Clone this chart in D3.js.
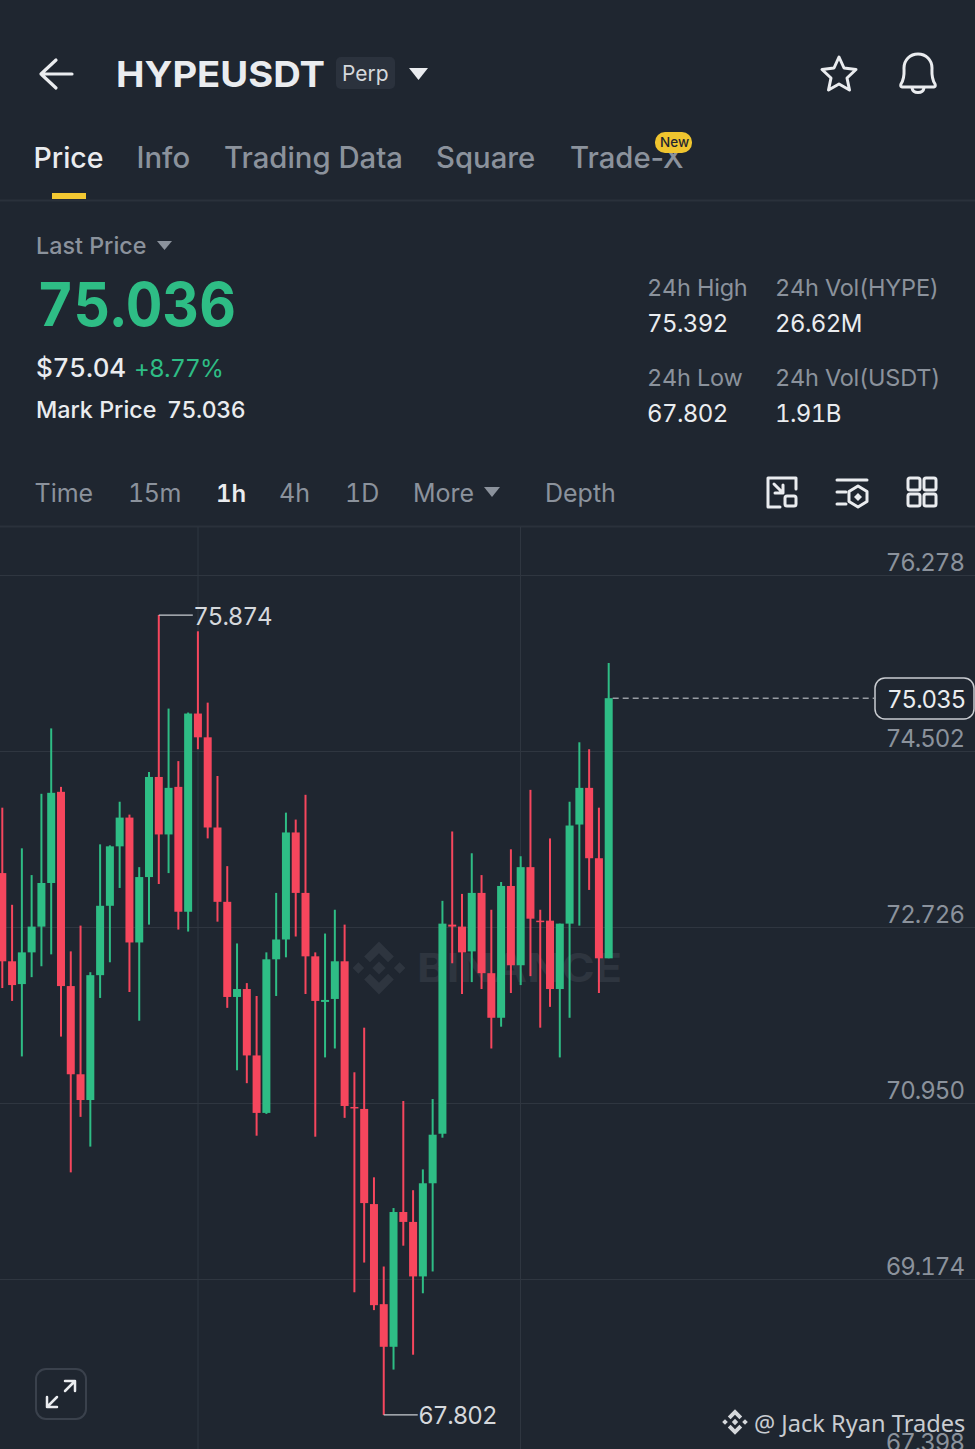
<!DOCTYPE html>
<html>
<head>
<meta charset="utf-8">
<script src="https://cdn.jsdelivr.net/npm/d3@7"></script>
<style>
  html, body { margin: 0; padding: 0; background: #1f2630; }
  svg { display: block; }
  text { font-family: Inter, "Noto Sans", sans-serif; font-variant-numeric: tabular-nums; }
</style>
</head>
<body>
<div id="chart"></div>
<script>
var w = 975, h = 1449;

// one hour candles, oldest first
var opens = [73.27,72.38,72.15,72.47,72.73,73.17,74.09,72.13,71.24,70.98,72.24,72.94,73.54,73.83,72.57,73.23,74.24,73.66,74.14,72.88,74.88,74.64,73.73,72.98,72.02,72.10,71.43,70.85,72.40,72.60,73.68,73.07,72.43,71.97,72.00,72.38,70.91,70.89,69.93,68.92,68.49,69.85,69.75,69.20,70.14,70.64,72.75,72.73,72.48,73.07,72.26,71.81,73.14,72.34,73.33,72.79,72.79,72.10,72.76,73.76,74.13,73.42,72.41];
var highs = [73.93,72.95,73.52,73.25,74.07,74.73,74.14,72.48,72.74,72.27,73.56,73.55,73.99,73.86,73.33,74.29,75.874,74.93,74.40,74.89,75.71,74.99,74.25,73.34,72.56,72.16,72.03,72.47,73.07,73.88,73.81,74.06,72.47,72.66,72.90,72.75,71.26,71.71,70.20,69.30,69.89,70.97,70.07,70.28,70.99,72.99,73.69,73.06,73.47,73.25,72.90,73.18,73.51,73.44,74.11,72.90,73.62,72.76,73.99,74.59,74.52,73.93,75.39];
var lows = [72.11,71.98,71.42,72.22,72.33,72.45,71.62,70.25,70.81,70.51,72.01,72.37,73.12,72.07,71.78,72.75,73.16,73.27,72.70,72.68,74.52,73.62,72.78,71.91,71.28,71.15,70.62,70.84,72.03,72.42,72.63,72.05,70.61,71.41,71.50,70.80,69.04,69.34,68.86,67.802,68.26,69.51,68.41,69.03,69.25,70.60,72.36,72.05,72.17,72.10,71.50,71.72,72.06,72.14,72.23,71.71,71.92,71.41,71.81,72.74,73.10,72.06,72.41];
var closes = [72.38,72.14,72.47,72.73,73.17,74.08,72.13,71.24,70.98,72.24,72.94,73.54,73.83,72.57,73.23,74.24,73.66,74.13,72.88,74.88,74.64,73.73,72.98,72.02,72.10,71.43,70.85,72.40,72.60,73.68,73.07,72.43,71.98,71.99,72.38,70.92,70.90,69.94,68.91,68.49,69.85,69.75,69.20,70.14,70.63,72.76,72.73,72.47,73.07,72.26,71.81,73.14,72.34,73.33,72.81,72.78,72.10,72.76,73.75,74.13,73.42,72.41,75.035];

var priceTicks = [76.278, 74.502, 72.726, 70.950, 69.174, 67.398];
var tabs = ["Price", "Info", "Trading Data", "Square", "Trade-X"];
var intervals = ["Time", "15m", "1h", "4h", "1D", "More", "Depth"];
var statLabels = ["24h High", "24h Vol(HYPE)", "24h Low", "24h Vol(USDT)"];
var statValues = ["75.392", "26.62M", "67.802", "1.91B"];

var green = "#2ebd85", red = "#f6465d", grey = "#8b929c", light = "#eaecef", bg = "#1f2630";

var svg = d3.select("#chart").append("svg")
    .attr("width", w)
    .attr("height", h);

svg.append("rect").attr("width", w).attr("height", h).attr("fill", bg);

function label(x, y, str, size, fill, weight) {
  return svg.append("text")
      .attr("x", x)
      .attr("y", y)
      .attr("font-size", size)
      .attr("fill", fill)
      .attr("font-weight", weight || 400)
      .text(str);
}

function tri(x0, x1, y0, y1, fill) {
  svg.append("path")
      .attr("d", "M" + x0 + "," + y0 + "L" + x1 + "," + y0 + "L" + (x0 + x1) / 2 + "," + y1 + "Z")
      .attr("fill", fill);
}

function icon(d, sw) {
  return svg.append("path")
      .attr("d", d)
      .attr("fill", "none")
      .attr("stroke", light)
      .attr("stroke-width", sw || 3)
      .attr("stroke-linejoin", "round")
      .attr("stroke-linecap", "round");
}

// binance diamond logo
function logo(cx, cy, s, fill) {
  var g = svg.append("g").attr("transform", "translate(" + cx + "," + cy + ")scale(" + s + ")").attr("fill", fill);
  g.append("path").attr("d", "M-9,-7L0,-16L9,-7L5.5,-3.5L0,-9L-5.5,-3.5Z");
  g.append("path").attr("d", "M-9,7L0,16L9,7L5.5,3.5L0,9L-5.5,3.5Z");
  g.append("path").attr("d", "M-4,0L0,-4L4,0L0,4Z");
  g.append("path").attr("d", "M-16,0L-12.5,-3.5L-9,0L-12.5,3.5Z");
  g.append("path").attr("d", "M16,0L12.5,-3.5L9,0L12.5,3.5Z");
}

// header
icon("M72,74H41M56,60L41,74L56,88", 3.2);
label(116, 87, "HYPEUSDT", 36, light, 700).attr("textLength", 209).attr("lengthAdjust", "spacingAndGlyphs");
svg.append("rect").attr("x", 336).attr("y", 57).attr("width", 59).attr("height", 32).attr("rx", 5).attr("fill", "#2b323d");
label(342, 81, "Perp", 21, "#d5d8dc");
tri(409, 428, 68, 80, light);
icon("M839,57L844,68L856,69.5L847,78L849.5,90L839,84L828.5,90L831,78L822,69.5L834,68Z", 3);
icon("M901,84C905,78 904,72 904,68C904,60 910,54 918,54C926,54 932,60 932,68C932,72 931,78 935,84C936,87 934,87 932,87H904C902,87 900,87 901,84ZM912,88C913,94 923,94 924,88", 3);

// tabs
var tabX = [33.5, 136.5, 224, 436, 570];
tabs.forEach(function(t, i) {
  label(tabX[i], 168, t, i == 0 ? 28.5 : 29.3, i == 0 ? light : grey, 500)
      .style("font-variant-numeric", "normal");
});
svg.append("rect").attr("x", 52).attr("y", 193).attr("width", 34).attr("height", 6).attr("fill", "#f3c832");
svg.append("rect").attr("x", 0).attr("y", 199.5).attr("width", w).attr("height", 2).attr("fill", "#2a313b");
svg.append("rect").attr("x", 655).attr("y", 132).attr("width", 37).attr("height", 21).attr("rx", 10).attr("fill", "#f0c52f");
label(660, 147, "New", 13.5, "#1f2630", 500);

// price block
label(36, 254, "Last Price", 23.3, grey, 500);
tri(157, 172, 241, 250, grey);
label(37, 326, "75.036", 60, green, 700).attr("textLength", 199).attr("lengthAdjust", "spacingAndGlyphs");
label(36, 377, "$75.04", 26, light, 500).attr("letter-spacing", -0.2);
label(134, 377, "+8.77%", 24.3, green, 400).attr("letter-spacing", -0.7);
label(36, 418, "Mark Price", 23.3, light, 500);
label(167, 418, "75.036", 23, light, 500).attr("letter-spacing", -0.4);

var statX = [647, 775, 647, 775], statY = [296, 296, 386, 386];
statLabels.forEach(function(t, i) {
  label(statX[i], statY[i], t, 23.5, grey).attr("letter-spacing", -0.2);
  label(statX[i], statY[i] + 36, statValues[i], 24, light).attr("letter-spacing", -0.6);
});

// interval bar
var intervalX = [34.5, 128, 216, 279, 345, 413, 545];
intervals.forEach(function(t, i) {
  label(intervalX[i], 502, t, i == 2 ? 24 : 25, i == 2 ? light : grey, i == 2 ? 600 : 400)
      .attr("letter-spacing", i == 1 ? -0.4 : 0);
});
tri(484, 500, 487, 497, grey);
icon("M768,507V478H796V489M768,507H780M774,484L783,493M783,485V493H775", 3);
svg.append("rect").attr("x", 785).attr("y", 496).attr("width", 11).attr("height", 10).attr("rx", 2)
    .attr("fill", "none").attr("stroke", light).attr("stroke-width", 3);
icon("M837,480H867M837,492H846M837,504H846", 3);
icon("M858,486L867,491.5V501.5L858,507L849,501.5V491.5Z", 3);
svg.append("path").attr("d", "M858,493L862,497L858,501L854,497Z").attr("fill", light);
[[908, 478], [924, 478], [908, 494], [924, 494]].forEach(function(p) {
  svg.append("rect").attr("x", p[0]).attr("y", p[1]).attr("width", 12).attr("height", 12).attr("rx", 2)
      .attr("fill", "none").attr("stroke", light).attr("stroke-width", 3);
});
svg.append("rect").attr("x", 0).attr("y", 525.5).attr("width", w).attr("height", 2).attr("fill", "#2a313b");

// scales
var x = d3.scaleLinear().domain([0, opens.length - 1]).range([2.3, 608.7]);
var y = d3.scaleLinear().domain([76.278, 67.398]).range([575, 1455]);

// vertical grid
svg.selectAll(".vgrid")
    .data([198, 520.5])
  .enter().append("line")
    .attr("x1", function(d) { return d; })
    .attr("x2", function(d) { return d; })
    .attr("y1", 527)
    .attr("y2", h)
    .attr("stroke", "#2f3640")
    .attr("stroke-width", 1);

// price axis, grid lines come from the ticks
var axis = svg.append("g")
    .attr("transform", "translate(" + w + ",0)")
    .call(d3.axisLeft(y).tickValues(priceTicks).tickSize(w).tickFormat(d3.format(".3f")));
axis.select(".domain").remove();
axis.selectAll("line").attr("stroke", "#2f3640").attr("stroke-width", 1);
axis.selectAll("text")
    .attr("x", -11)
    .attr("dy", -5)
    .attr("text-anchor", "end")
    .attr("font-size", 24)
    .attr("letter-spacing", -1)
    .attr("fill", grey);

// watermark
logo(379, 968, 1.65, "#2e353f");
label(417, 982, "BINANCE", 39, "#2e353f", 700).attr("textLength", 205).attr("lengthAdjust", "spacingAndGlyphs");

// candles
var candles = d3.range(opens.length).map(function(i) {
  return { i: i, o: opens[i], h: highs[i], l: lows[i], c: closes[i] };
});
function color(d) { return d.c >= d.o ? green : red; }

svg.selectAll(".wick")
    .data(candles)
  .enter().append("line")
    .attr("class", "wick")
    .attr("x1", function(d) { return x(d.i); })
    .attr("x2", function(d) { return x(d.i); })
    .attr("y1", function(d) { return y(d.h); })
    .attr("y2", function(d) { return y(d.l); })
    .attr("stroke", color)
    .attr("stroke-width", 2);

svg.selectAll(".body")
    .data(candles)
  .enter().append("rect")
    .attr("class", "body")
    .attr("x", function(d) { return x(d.i) - 4; })
    .attr("width", 8)
    .attr("y", function(d) { return y(Math.max(d.o, d.c)); })
    .attr("height", function(d) { return Math.max(1.5, Math.abs(y(d.o) - y(d.c))); })
    .attr("fill", color);

// high and low callouts
var hi = d3.greatest(candles, function(d) { return d.h; }),
    lo = d3.least(candles, function(d) { return d.l; });
svg.append("line").attr("x1", x(hi.i)).attr("x2", x(hi.i) + 34).attr("y1", y(hi.h)).attr("y2", y(hi.h))
    .attr("stroke", "#c9ccd1").attr("stroke-width", 1.2);
label(x(hi.i) + 34.5, y(hi.h) + 10, hi.h.toFixed(3), 24, "#d5d8dc").attr("letter-spacing", -1);
svg.append("line").attr("x1", x(lo.i)).attr("x2", x(lo.i) + 34).attr("y1", y(lo.l)).attr("y2", y(lo.l))
    .attr("stroke", "#c9ccd1").attr("stroke-width", 1.2);
label(x(lo.i) + 34.5, y(lo.l) + 9, lo.l.toFixed(3), 24, "#d5d8dc").attr("letter-spacing", -1);

// last price tag
var last = closes[closes.length - 1];
svg.append("line").attr("x1", x(opens.length - 1) + 4).attr("x2", 874).attr("y1", y(last)).attr("y2", y(last))
    .attr("stroke", "#d5d8dc").attr("stroke-width", 1).attr("stroke-dasharray", "6,4");
svg.append("rect").attr("x", 875).attr("y", 678).attr("width", 99).attr("height", 41).attr("rx", 10)
    .attr("fill", bg).attr("stroke", "#c9ccd1").attr("stroke-width", 1.5);
label(887, 708, last.toFixed(3), 24, light).attr("letter-spacing", -1);

// expand button
svg.append("rect").attr("x", 36).attr("y", 1369).attr("width", 50).attr("height", 50).attr("rx", 10)
    .attr("fill", "none").attr("stroke", "#3a414c").attr("stroke-width", 2);
icon("M47,1407L57,1397M47,1397V1407H57M75,1381L65,1391M65,1381H75V1391", 2.5);

// footer credit
logo(735, 1422, 0.8, "#d5d8dc");
svg.append("text")
    .attr("x", 754)
    .attr("y", 1432)
    .attr("font-size", 23.6)
    .attr("fill", "#c9ccd1")
    .style("font-family", "'Noto Sans', sans-serif")
    .text("@ Jack Ryan Trades");
</script>
</body>
</html>
